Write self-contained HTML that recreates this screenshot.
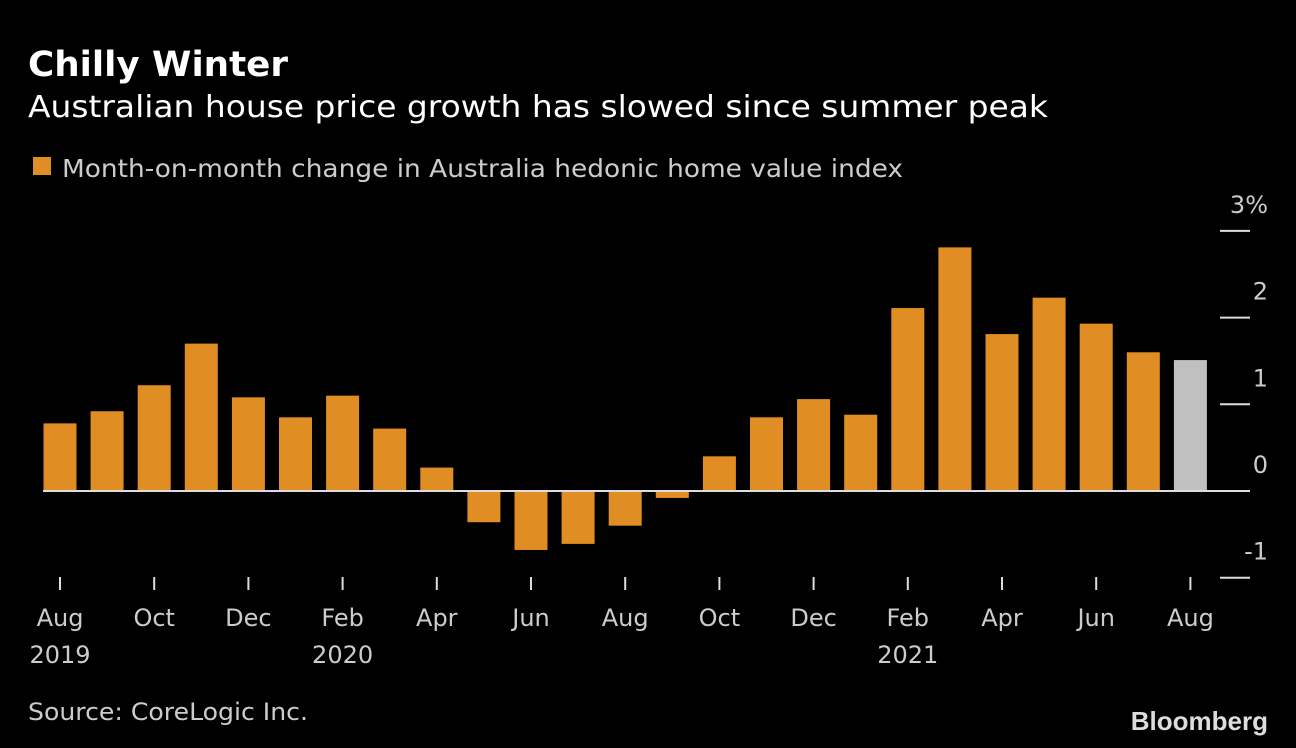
<!DOCTYPE html>
<html><head><meta charset="utf-8"><style>
body{margin:0;background:#000;width:1296px;height:748px;overflow:hidden;font-family:"DejaVu Sans","Liberation Sans",sans-serif;color:#fff}
svg{position:absolute;left:0;top:0}
</style></head><body>
<svg width="1296" height="748" font-family="DejaVu Sans, Liberation Sans, sans-serif">
<text x="28" y="76" font-size="35" font-weight="bold" fill="#fff" textLength="260" lengthAdjust="spacingAndGlyphs">Chilly Winter</text>
<text x="28" y="117" font-size="30" fill="#fff" textLength="1020" lengthAdjust="spacingAndGlyphs">Australian house price growth has slowed since summer peak</text>
<rect x="33" y="157" width="18" height="18" fill="#e08e24"/>
<text x="62" y="177" font-size="25" fill="#ccc" textLength="841" lengthAdjust="spacingAndGlyphs">Month-on-month change in Australia hedonic home value index</text>
<g id="bars"></g>
<g id="axis"></g>
<text x="28" y="720" font-size="24" fill="#ccc" textLength="280" lengthAdjust="spacingAndGlyphs">Source: CoreLogic Inc.</text>
<text x="1268" y="730" font-size="26" font-weight="bold" fill="#ddd" text-anchor="end" font-family="Liberation Sans, sans-serif">Bloomberg</text>
</svg>
<script>
const values=[0.78,0.92,1.22,1.70,1.08,0.85,1.10,0.72,0.27,-0.36,-0.68,-0.61,-0.40,-0.08,0.40,0.85,1.06,0.88,2.11,2.81,1.81,2.23,1.93,1.60,1.51];
const monthLabels=["Aug","","Oct","","Dec","","Feb","","Apr","","Jun","","Aug","","Oct","","Dec","","Feb","","Apr","","Jun","","Aug"];
const yearLabels={0:"2019",6:"2020",18:"2021"};
const yTicks=[3,2,1,0,-1];
const yLabels=["3%","2","1","0","-1"];
const NS="http://www.w3.org/2000/svg";
const y=v=>491-v*86.7;
const x=i=>60+i*47.1;
function mk(t,a,p){const e=document.createElementNS(NS,t);for(const k in a)e.setAttribute(k,a[k]);p.appendChild(e);return e;}
const bars=document.getElementById('bars'),ax=document.getElementById('axis');
values.forEach((v,i)=>{
 const r=mk('rect',{x:x(i)-16.5,y:Math.min(y(v),y(0)),width:33,height:Math.abs(y(v)-y(0)),fill:i===values.length-1?'#c0c0c0':'#e08e24'},bars);
 
 
});
const zl=mk('line',{x1:43,x2:1250,y1:y(0),y2:y(0),stroke:'#ddd','stroke-width':2},ax);


yTicks.forEach((t,i)=>{
 const l=mk('line',{x1:1220,x2:1250,y1:y(t),y2:y(t),stroke:'#ddd','stroke-width':2},ax);
 
 
 const tx=mk('text',{x:1268,y:y(t)-18,'font-size':24,fill:'#ccc','text-anchor':'end'},ax);
 tx.textContent=yLabels[i];
 
 
});
monthLabels.forEach((m,i)=>{
 if(!m)return;
 const l=mk('line',{x1:x(i),x2:x(i),y1:577,y2:590,stroke:'#ddd','stroke-width':2},ax);
 
 
 const tx=mk('text',{x:x(i),y:626,'font-size':24,fill:'#ccc','text-anchor':'middle'},ax);
 tx.textContent=m;
 
 
 if(yearLabels[i]){
  const yt=mk('text',{x:x(i),y:663,'font-size':24,fill:'#ccc','text-anchor':'middle'},ax);
  yt.textContent=yearLabels[i];
  
  
 }
});
</script>
</body></html>
